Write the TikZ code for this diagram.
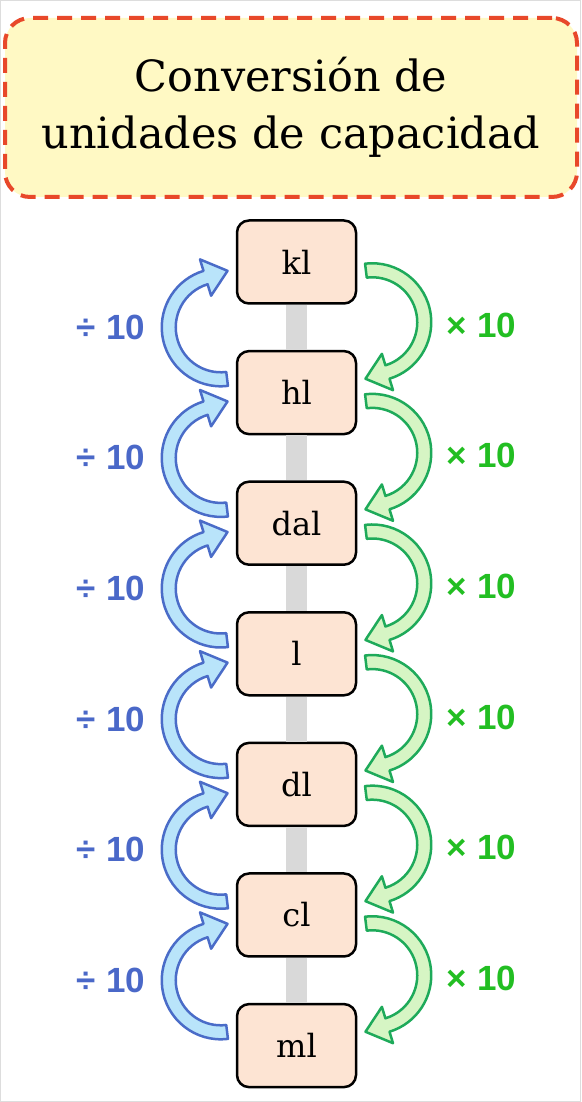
\documentclass[tikz,border=0pt]{standalone}
\usepackage{fontspec}
\setmainfont{DejaVu Serif}
\newfontfamily\signos{Liberation Sans}
\usetikzlibrary{calc}

\definecolor{marcogris}{RGB}{221,221,221}
\definecolor{titulofondo}{RGB}{255,249,196}
\definecolor{titulorojo}{RGB}{232,72,42}
\definecolor{cajafondo}{RGB}{253,228,211}
\definecolor{barragris}{RGB}{217,217,217}
\definecolor{azul}{RGB}{74,108,200}
\definecolor{azulclaro}{RGB}{185,228,250}
\definecolor{verde}{RGB}{30,170,90}
\definecolor{verdeclaro}{RGB}{214,245,196}
\definecolor{azultexto}{RGB}{74,104,200}
\definecolor{verdetexto}{RGB}{34,190,34}

\tikzset{
  titulo/.style={draw=titulorojo, fill=titulofondo, line width=4pt,
    dash pattern=on 15pt off 9pt, rounded corners=25pt, align=center,
    minimum width=572pt, minimum height=179pt,
    font=\fontsize{43}{57}\selectfont},
  unidad/.style={draw, line width=2.5pt, fill=cajafondo, rounded corners=12pt,
    minimum width=119pt, minimum height=83pt,
    font=\fontsize{32}{32}\selectfont},
  barra/.style={barragris, line width=21pt},
  flechaazul/.style={draw=azul, fill=azulclaro, line width=2.5pt, line join=round},
  flechaverde/.style={draw=verde, fill=verdeclaro, line width=2.5pt, line join=round},
  etdiv/.style={text=azultexto, font=\signos\fontsize{35}{35}\selectfont\bfseries},
  etmul/.style={text=verdetexto, font=\signos\fontsize{35}{35}\selectfont\bfseries}
}

\newcommand{\flecha}[4]{%
  \draw[#1, shift={(#2)}] (#3:59pt) arc[start angle=#3, end angle=#4, radius=59pt]
    -- (#4:71pt) -- ($(#4:52pt)+(#4-90:23pt)$) -- (#4:33pt) -- (#4:45pt)
    arc[start angle=#4, end angle=#3, radius=45pt] -- cycle;}

\begin{document}
\begin{tikzpicture}[x=1pt, y=1pt]
    \useasboundingbox (0,0) rectangle (581,1102);
    \draw[marcogris, line width=1pt] (0.5,0.5) rectangle (580.5,1101.5);
    \node[titulo] (titulo) at (291,994.5) {Conversión de\\unidades de capacidad};
    \foreach \uni [count=\i] in {kl,hl,dal,l,dl,cl,ml}
        \node[unidad] (\uni) at (296.5,{840-130.6*(\i-1)}) {\uni};
    \foreach \a/\b [count=\i] in {kl/hl,hl/dal,dal/l,l/dl,dl/cl,cl/ml} {
        \draw[barra] (\a.south) -- (\b.north);
        \coordinate (izq\i) at ($(\a.west)!.5!(\b.west)+(-15,0)$);
        \coordinate (der\i) at ($(\a.east)!.5!(\b.east)+(15,5)$);
        \flecha{flechaazul}{izq\i}{277}{107}
        \flecha{flechaverde}{der\i}{97}{-73}
        \node[etdiv] (div\i) at ($(izq\i)+(-110,0)$) {÷\hspace{0.3em}10};
        \node[etmul] (mul\i) at ($(der\i)+(109,-3)$) {×\hspace{0.3em}10};
    }
\end{tikzpicture}
\end{document}
